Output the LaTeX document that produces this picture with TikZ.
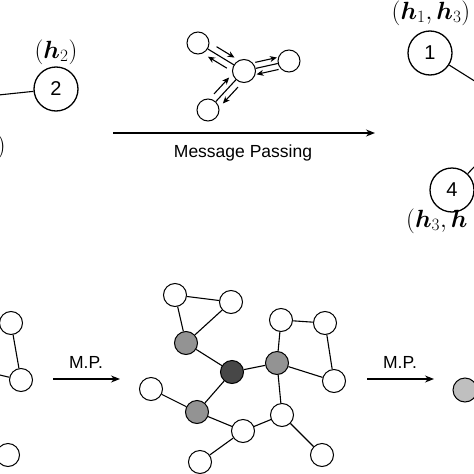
\documentclass[tikz,border=0pt]{standalone}
\usepackage{amsmath}
\usepackage{bm}
\usepackage{fontspec}
\newfontfamily\arial{Liberation Sans}
\usetikzlibrary{arrows.meta,calc}
\begin{document}
\begin{tikzpicture}[x=1pt,y=-1pt,
  big/.style={circle,draw,line width=1.3pt,minimum size=44pt,inner sep=0pt,fill=white,font=\arial\fontsize{20}{20}\selectfont},
  sm/.style={circle,draw,line width=1pt,minimum size=23pt,inner sep=0pt,fill=white},
  gr/.style={sm,fill=gray!85},
  dk/.style={sm,fill=black!72},
  lg/.style={sm,fill=black!25},
  edge/.style={line width=1.1pt},
  mp/.style={-{Stealth[length=7pt,width=6pt]},line width=1.1pt},
  bigarrow/.style={-{Stealth[length=9pt,width=7pt]},line width=1.3pt},
  lbl/.style={font=\fontsize{23}{23}\selectfont,inner sep=0pt},
  sans/.style={font=\arial\fontsize{17.5}{18}\selectfont,inner sep=0pt}
]
\path[use as bounding box] (0,0) rectangle (474,474);
\clip (0,0) rectangle (474,474);

% ---------- top: left part
\node[big] (n2) at (56,89) {2};
\node[lbl] (l2) at (56,52) {$(\bm{h}_2)$};
\coordinate (w2) at (-40,99);
\draw[edge] (n2) -- (w2);
\node[lbl,anchor=east] (lpar) at (6,147) {$)$};

% ---------- top: message passing sketch
\node[sm,minimum size=22pt] (u) at (198,43) {};
\node[sm] (c) at (244,71) {};
\node[sm,minimum size=22pt] (r) at (289,61) {};
\node[sm,minimum size=22pt] (b) at (208,110) {};
\draw[edge] (u) -- (c);
\draw[edge] (c) -- (r);
\draw[edge] (c) -- (b);
% upper-left edge
\draw[mp] ($(u)!0.33!(c)!6.5pt!90:(c)$) -- ($(u)!0.72!(c)!6.5pt!90:(c)$);
\draw[mp] ($(u)!0.70!(c)!6.5pt!-90:(c)$) -- ($(u)!0.29!(c)!6.5pt!-90:(c)$);
% right edge
\draw[mp] ($(c)!0.28!(r)!6pt!90:(r)$) -- ($(c)!0.76!(r)!6pt!90:(r)$);
\draw[mp] ($(c)!0.74!(r)!6pt!-90:(r)$) -- ($(c)!0.25!(r)!6pt!-90:(r)$);
% bottom edge
\draw[mp] ($(c)!0.30!(b)!6.5pt!90:(b)$) -- ($(c)!0.72!(b)!6.5pt!90:(b)$);
\draw[mp] ($(c)!0.70!(b)!6.5pt!-90:(b)$) -- ($(c)!0.28!(b)!6.5pt!-90:(b)$);

\coordinate (a1s) at (113,133);
\coordinate (a1e) at (375,133);
\draw[bigarrow] (a1s) -- (a1e);
\node[sans] (mptext) at (243,153) {Message Passing};

% ---------- top: right part
\node[big] (n1) at (430,53) {1};
\node[lbl] (l1) at (431,13) {$(\bm{h}_1,\bm{h}_3)$};
\coordinate (e1) at (500,97);
\draw[edge] (n1) -- (e1);
\node[big] (n4) at (452,190) {4};
\coordinate (e4) at (500,140);
\draw[edge] (n4) -- (e4);
\node[lbl,anchor=west] (l4) at (406,221) {$(\bm{h}_3,\bm{h}$};

% ---------- bottom: left partial graph
\node[sm] (p1) at (11,323) {};
\node[sm] (p2) at (21,380) {};
\node[sm] (p3) at (8,455) {};
\coordinate (wp2) at (-30,368);
\draw[edge] (p1) -- (p2);
\draw[edge] (p2) -- (wp2);

\coordinate (m1s) at (53,379);
\coordinate (m1e) at (120,379);
\draw[bigarrow,line width=1.2pt] (m1s) -- (m1e);
\node[sans] (mp1) at (86,362) {M.P.};

% ---------- bottom: middle graph
\node[sm] (A) at (175,295) {};
\node[sm] (B) at (231,302) {};
\node[gr] (C) at (186,343) {};
\node[dk] (D) at (232,372) {};
\node[gr] (E) at (277,363) {};
\node[sm] (F) at (281,320) {};
\node[sm] (G) at (325,323) {};
\node[sm] (H) at (334,381) {};
\node[sm] (I) at (151,389) {};
\node[gr] (J) at (197,412) {};
\node[sm] (K) at (243,431) {};
\node[sm] (L) at (282,415) {};
\node[sm] (M) at (322,455) {};
\node[sm] (N) at (200,462) {};
\foreach \s/\t in {A/B,A/C,B/C,C/D,D/E,D/J,J/I,J/K,K/L,K/N,L/M,E/L,E/H,F/E,F/G,G/H}
  \draw[edge] (\s) -- (\t);

\coordinate (m2s) at (367,379);
\coordinate (m2e) at (434,379);
\draw[bigarrow,line width=1.2pt] (m2s) -- (m2e);
\node[sans] (mp2) at (400,362) {M.P.};

% ---------- bottom: right partial
\node[lg,minimum size=24pt] (q1) at (465,390) {};
\end{tikzpicture}
\end{document}
